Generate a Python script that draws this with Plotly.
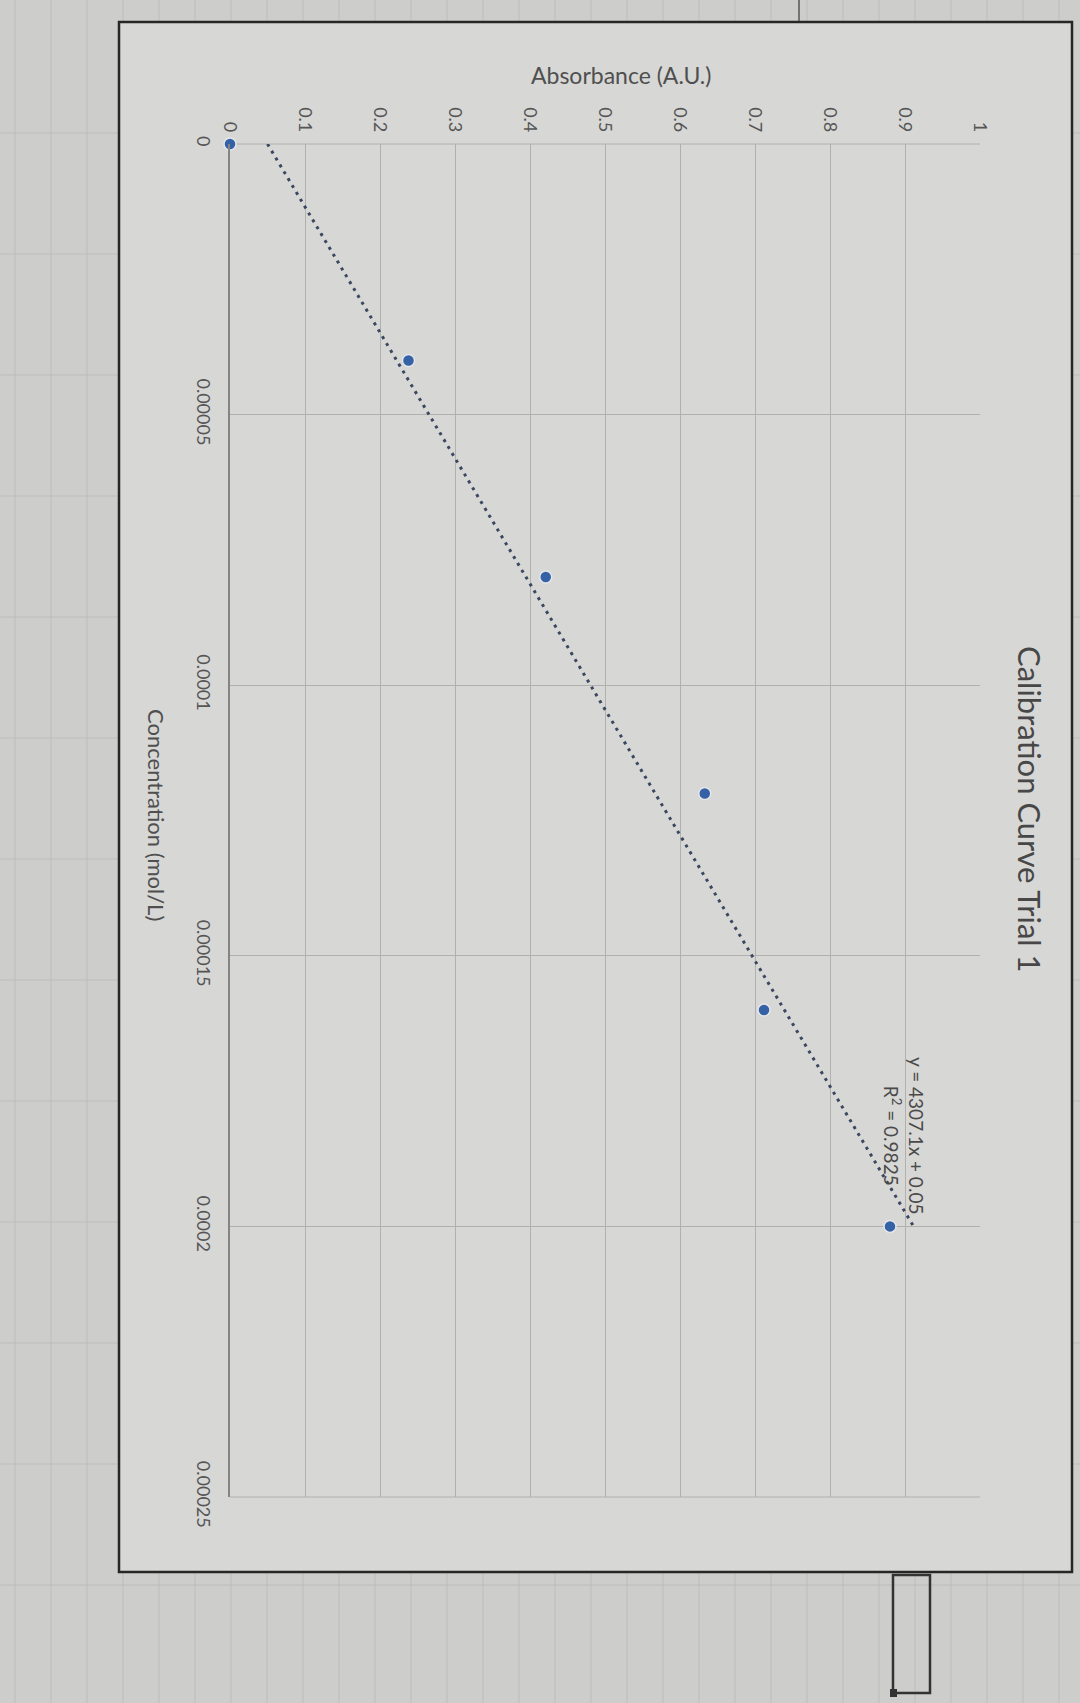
import plotly.graph_objects as go

# ---- data ----
concentration = [0, 0.00004, 0.00008, 0.00012, 0.00016, 0.0002]   # mol/L
absorbance = [0, 0.238, 0.421, 0.633, 0.712, 0.88]                 # A.U.
trend_slope = 4307.1
trend_intercept = 0.05
r_squared = 0.9825

conc_ticks = [0, 0.00005, 0.0001, 0.00015, 0.0002, 0.00025]
conc_tick_labels = ["0", "0.00005", "0.0001", "0.00015", "0.0002", "0.00025"]
abs_ticks = [0, 0.1, 0.2, 0.3, 0.4, 0.5, 0.6, 0.7, 0.8, 0.9, 1]
abs_tick_labels = ["0", "0.1", "0.2", "0.3", "0.4", "0.5", "0.6", "0.7", "0.8", "0.9", "1"]

chart_title = "Calibration Curve Trial 1"
x_title = "Concentration (mol/L)"
y_title = "Absorbance (A.U.)"
equation_text = "y = 4307.1x + 0.05<br>R<sup>2</sup> = 0.9825"

# linear trendline over the data range
trend_conc = [min(concentration), max(concentration)]
trend_abs = [trend_intercept + trend_slope * c for c in trend_conc]

# ---- layout geometry (pixels) ----
W, H = 1080, 1703
L, R, T, B = 230, 980, 144, 1497


def px(xp):
    return (xp - L) / (R - L)


def py(yp):
    return (B - yp) / (B - T)


FONT = "Lato, 'Open Sans', sans-serif"
GRID = "#b0b0ae"

fig = go.Figure()

# trendline (dotted)
fig.add_trace(go.Scatter(
    x=trend_abs, y=trend_conc, mode="lines",
    line=dict(color="#3b4660", width=3, dash="3px,5px"),
    hoverinfo="skip", cliponaxis=False,
))

# data points
fig.add_trace(go.Scatter(
    x=absorbance, y=concentration, mode="markers", cliponaxis=False,
    marker=dict(size=12, color="#3561a6", line=dict(color="#e4e6ea", width=1.5)),
))

shapes = []
# spreadsheet grid behind the chart (decoration)
grid_col = "#bdbdbb"
xg = 15
while xg < W:
    shapes.append(dict(type="line", xref="paper", yref="paper",
                       x0=px(xg), x1=px(xg), y0=py(0), y1=py(H),
                       line=dict(color=grid_col, width=1), layer="below"))
    xg += 36
yg = 133
while yg < H:
    shapes.append(dict(type="line", xref="paper", yref="paper",
                       x0=px(0), x1=px(W), y0=py(yg), y1=py(yg),
                       line=dict(color=grid_col, width=1), layer="below"))
    yg += 121

# chart area frame
shapes.append(dict(type="rect", xref="paper", yref="paper",
                   x0=px(119), x1=px(1072), y0=py(1572), y1=py(22),
                   fillcolor="#d7d7d5", line=dict(color="#262626", width=2.5),
                   layer="below"))
# plot-area edge gridlines (first and last concentration ticks)
for yy in (0, 1):
    shapes.append(dict(type="line", xref="paper", yref="paper",
                       x0=0, x1=1, y0=yy, y1=yy,
                       line=dict(color=GRID, width=1), layer="below"))
# small spreadsheet details
shapes.append(dict(type="line", xref="paper", yref="paper",
                   x0=px(799), x1=px(799), y0=py(0), y1=py(21),
                   line=dict(color="#555555", width=1.5)))
shapes.append(dict(type="rect", xref="paper", yref="paper",
                   x0=px(893), x1=px(930), y0=py(1693), y1=py(1575),
                   line=dict(color="#333333", width=2.5)))
shapes.append(dict(type="rect", xref="paper", yref="paper",
                   x0=px(890), x1=px(897), y0=py(1697), y1=py(1689),
                   fillcolor="#333333", line=dict(width=0)))

annotations = [
    dict(text=chart_title, xref="paper", yref="paper", x=px(1030), y=py(809),
         showarrow=False, textangle=90, xanchor="center", yanchor="middle",
         font=dict(family=FONT, size=31, color="#474747")),
    dict(text=y_title, xref="paper", yref="paper", x=px(621), y=py(75),
         showarrow=False, xanchor="center", yanchor="middle",
         font=dict(family=FONT, size=23, color="#4f4f4f")),
    dict(text=x_title, xref="paper", yref="paper", x=px(157), y=py(815),
         showarrow=False, textangle=90, xanchor="center", yanchor="middle",
         font=dict(family=FONT, size=22, color="#4f4f4f")),
    dict(text=equation_text,
         xref="paper", yref="paper", x=px(904), y=py(1135),
         showarrow=False, textangle=90, xanchor="center", yanchor="middle",
         align="center",
         font=dict(family=FONT, size=19, color="#4a4a4a")),
]

fig.update_layout(
    width=W, height=H,
    margin=dict(l=L, r=W - R, t=T, b=H - B, pad=0),
    paper_bgcolor="#cdcdcb",
    plot_bgcolor="rgba(0,0,0,0)",
    showlegend=False,
    font=dict(family=FONT, color="#595959"),
    shapes=shapes,
    annotations=annotations,
    xaxis=dict(
        side="top", range=[0, 1], tickmode="array",
        tickvals=abs_ticks, ticktext=abs_tick_labels, tickangle=90,
        showgrid=True, gridcolor=GRID, gridwidth=1,
        zeroline=False, showline=False, ticks="", ticklabelstandoff=8,
        tickfont=dict(family=FONT, size=18, color="#555555"),
    ),
    yaxis=dict(
        range=[0.00025, 0], tickmode="array",
        tickvals=conc_ticks, ticktext=conc_tick_labels, tickangle=90,
        showgrid=True, gridcolor=GRID, gridwidth=1,
        zeroline=False, showline=True, linecolor="#858585", linewidth=1.5,
        ticks="", ticklabelstandoff=10,
        tickfont=dict(family=FONT, size=18, color="#555555"),
    ),
)

fig.write_html("out.html", config={"displayModeBar": False},
               post_script="document.body.style.margin='0';document.body.style.overflow='hidden';")
